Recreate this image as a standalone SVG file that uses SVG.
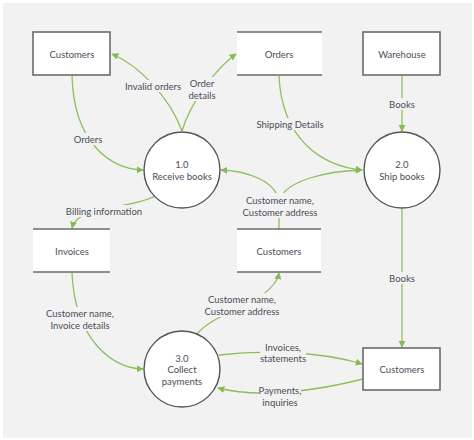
<svg xmlns="http://www.w3.org/2000/svg" width="474" height="440" viewBox="0 0 474 440">
<defs>
<marker id="arr" viewBox="0 0 10 10" refX="9" refY="5" markerWidth="7" markerHeight="7" markerUnits="userSpaceOnUse" orient="auto">
<path d="M0,0 L10,5 L0,10 z" fill="#86bb55"/>
</marker>
<style>
text{font-family:Lato,"Liberation Sans",sans-serif;font-size:9.5px;fill:#4a4d57;text-anchor:middle}
.box{fill:#fff;stroke:#6b6b6b;stroke-width:1.6}
.store{fill:#fff;stroke:none}
.sl{stroke:#6b6b6b;stroke-width:1.6}
.circ{fill:#fff;stroke:#555;stroke-width:1.4}
.c{fill:none;stroke:#8cc05c;stroke-width:1.3}
.a{marker-end:url(#arr)}
.lb{fill:#f2f2f2}
</style>
</defs>
<rect x="0" y="0" width="474" height="440" fill="#fff"/>
<rect x="3" y="3" width="469" height="435" fill="#f2f2f2"/>

<g id="connectors">
<path class="c a" d="M72,76 C74,145 112,169 143,170"/>
<path class="c a" d="M182,131 C170,98 140,66 112,54"/>
<path class="c a" d="M182,131 C190,104 214,70 236,54"/>
<path class="c a" d="M279,76 C282,140 322,166 362,170"/>
<path class="c a" d="M402,76 L402,131"/>
<path class="c" d="M279,229 L279,205"/>
<path class="c a" d="M279,205 C279,180 330,171 362,170"/>
<path class="c a" d="M279,205 C279,180 245,171 221,170"/>
<path class="c a" d="M155,196 C130,210 78,204 72,228"/>
<path class="c a" d="M72,273 C75,340 112,368 143,369"/>
<path class="c a" d="M197,334 C215,311 274,302 279,273"/>
<path class="c a" d="M219,355 C262,350 320,351 362,364"/>
<path class="c a" d="M363,379 C320,390 260,399 218,388"/>
<path class="c a" d="M402,209 L402,347"/>
</g>

<g id="labels">
<rect class="lb" x="72" y="133" width="32" height="12"/>
<text x="88" y="142.5">Orders</text>
<rect class="lb" x="124" y="80" width="58" height="12"/>
<text x="153" y="89.5">Invalid orders</text>
<rect class="lb" x="188" y="77" width="28" height="24"/>
<text x="202" y="86.5">Order</text>
<text x="202" y="98.5">details</text>
<rect class="lb" x="256" y="118" width="68" height="12"/>
<text x="290" y="127.5">Shipping Details</text>
<rect class="lb" x="388" y="98" width="28" height="12"/>
<text x="402" y="107.5">Books</text>
<rect class="lb" x="244" y="193" width="72" height="25"/>
<text x="280" y="203.5">Customer name,</text>
<text x="280" y="215.5">Customer address</text>
<rect class="lb" x="66" y="205" width="76" height="12"/>
<text x="104" y="214.5">Billing information</text>
<rect class="lb" x="46" y="307" width="68" height="24"/>
<text x="80" y="316.5">Customer name,</text>
<text x="80" y="328.5">Invoice details</text>
<rect class="lb" x="206" y="293" width="72" height="24"/>
<text x="242" y="302.5">Customer name,</text>
<text x="242" y="314.5">Customer address</text>
<rect class="lb" x="260" y="341" width="46" height="23"/>
<text x="283" y="350.5">Invoices,</text>
<text x="283" y="361.5">statements</text>
<rect class="lb" x="259" y="384" width="42" height="24"/>
<text x="280" y="393.5">Payments,</text>
<text x="280" y="405.5">inquiries</text>
<rect class="lb" x="388" y="272" width="28" height="12"/>
<text x="402" y="281.5">Books</text>
</g>

<g id="customers-top">
<rect class="box" x="33" y="32" width="77" height="43"/>
<text x="72" y="57.5">Customers</text>
</g>
<g id="orders-store">
<rect class="store" x="237" y="32" width="85" height="43"/>
<line class="sl" x1="237" y1="32" x2="322" y2="32"/>
<line class="sl" x1="237" y1="75" x2="322" y2="75"/>
<text x="279" y="57.5">Orders</text>
</g>
<g id="warehouse">
<rect class="box" x="363" y="32" width="77" height="43"/>
<text x="402" y="57.5">Warehouse</text>
</g>
<g id="p1">
<circle class="circ" cx="182" cy="170" r="38"/>
<text x="182" y="168">1.0</text>
<text x="182" y="180">Receive books</text>
</g>
<g id="p2">
<circle class="circ" cx="402" cy="170" r="38"/>
<text x="402" y="168">2.0</text>
<text x="402" y="180">Ship books</text>
</g>
<g id="invoices-store">
<rect class="store" x="33" y="229" width="77" height="43"/>
<line class="sl" x1="33" y1="229" x2="110" y2="229"/>
<line class="sl" x1="33" y1="272" x2="110" y2="272"/>
<text x="72" y="254.5">Invoices</text>
</g>
<g id="customers-store">
<rect class="store" x="237" y="229" width="84" height="43"/>
<line class="sl" x1="237" y1="229" x2="321" y2="229"/>
<line class="sl" x1="237" y1="272" x2="321" y2="272"/>
<text x="279" y="254.5">Customers</text>
</g>
<g id="p3">
<circle class="circ" cx="182" cy="369" r="38"/>
<text x="182" y="361.5">3.0</text>
<text x="182" y="373">Collect</text>
<text x="182" y="385">payments</text>
</g>
<g id="customers-bottom">
<rect class="box" x="363" y="348" width="77" height="42"/>
<text x="402" y="372.5">Customers</text>
</g>
</svg>
